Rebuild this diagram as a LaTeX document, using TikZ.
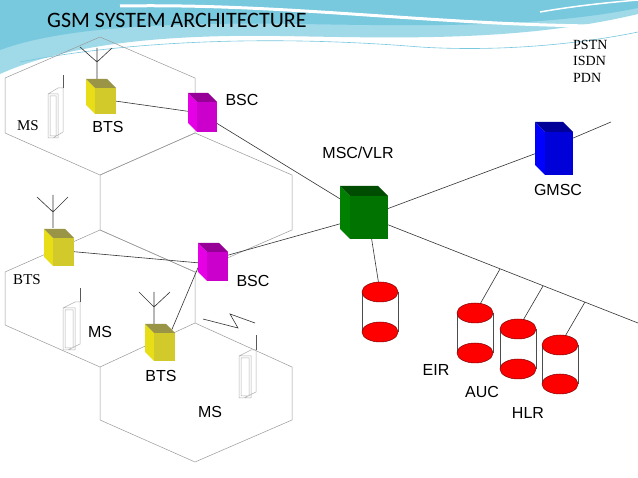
\documentclass[tikz,border=0pt]{standalone}
\usepackage{fontspec}
\setmainfont{Liberation Sans}
\newfontfamily\serf{Liberation Serif}
\newfontfamily\calib{Carlito}
\definecolor{mag}{RGB}{204,0,204}
\definecolor{magl}{RGB}{230,0,230}
\definecolor{magd}{RGB}{150,0,150}
\definecolor{wave1}{RGB}{160,218,232}
\definecolor{wave2}{RGB}{120,200,222}
\newcommand\mycube[8]{%
 \fill[#6] (#1,#2)--(#1-#8,#2-#8)--(#1-#8,#4-#8)--(#1,#4)--cycle;
 \fill[#7] (#1,#2)--(#1-#8,#2-#8)--(#3-#8,#2-#8)--(#3,#2)--cycle;
 \fill[#5] (#1,#2) rectangle (#3,#4);}
\newcommand\mycyl[5]{%
 \draw[gray!60!black,line width=0.6pt] (#1-#4,#2)--(#1-#4,#3) (#1+#4,#2)--(#1+#4,#3);
 \draw[fill=red,draw=red!50!black,line width=0.5pt] (#1,#3) ellipse [x radius=#4,y radius=#5];
 \draw[fill=red,draw=red!50!black,line width=0.5pt] (#1,#2) ellipse [x radius=#4,y radius=#5];}
\newcommand\myphone[5]{%
 \draw[gray!60,line width=0.5pt] (#1,#2+6)--(#3-5,#2)--(#3,#2)--(#3,#4-6)--(#1+5,#4) (#1,#2+6) rectangle (#3-5,#4) (#1+2,#2+8) rectangle (#3-7,#4-2);
 \draw[gray!70!black,line width=0.6pt] (#3,#2)--(#3,#5);}
\begin{document}
\begin{tikzpicture}[x=1pt,y=-1pt,
 hex/.style={draw=gray!80,line width=0.5pt},
 link/.style={draw=black!80,line width=0.6pt},
 lab/.style={font=\fontsize{16}{18}\selectfont,inner sep=0pt},
 slab/.style={font=\serf\fontsize{15}{17}\selectfont,inner sep=0pt}]
\useasboundingbox (0,0) rectangle (638,478);
\fill[white] (0,0) rectangle (638,478);
% header wave
\fill[wave1] (0,0)--(638,0)--(638,14) .. controls (520,42) and (400,38) .. (280,36) .. controls (150,34) and (60,47) .. (0,74)--cycle;
\fill[wave2] (0,0)--(638,0)--(638,8) .. controls (540,28) and (420,26) .. (300,24) .. controls (160,22) and (60,28) .. (0,50)--cycle;
\draw[white,line width=3pt] (120,6) .. controls (300,3) and (450,28) .. (638,26);
\draw[white,line width=1.5pt] (540,12) .. controls (580,5) and (615,2) .. (638,0);
\draw[wave2,line width=0.6pt] (20,62) .. controls (150,37) and (300,37) .. (420,47) .. controls (500,52) and (580,44) .. (638,32);
\node[font=\calib\fontsize{22}{26}\selectfont,anchor=west,inner sep=0pt] (title) at (47,20) {GSM SYSTEM ARCHITECTURE};
% hexagons
\draw[hex] (100,37)--(195,78)--(195,133)--(100,175)--(5,133)--(5,78)--cycle;
\draw[hex] (100,175)--(195,133)--(292,175)--(292,230)--(195,272)--(100,230)--cycle;
\draw[hex] (100,230)--(195,272)--(195,323)--(100,367)--(5,325)--(5,272)--cycle;
\draw[hex] (195,323)--(292,367)--(292,420)--(195,462)--(100,420)--(100,367);
% coordinates
\coordinate (bts1) at (108,100); \coordinate (bsc1) at (200,113);
\coordinate (bts2) at (66,251); \coordinate (bsc2) at (200,263);
\coordinate (bts3) at (170,334); \coordinate (msc) at (368,216);
\coordinate (gmsc) at (545,150); \coordinate (netend) at (611,122);
\coordinate (bus0) at (386,224); \coordinate (bus1) at (638,323);
\coordinate (c1) at (380,292); \coordinate (c2) at (475,313);
\coordinate (c3) at (518,329); \coordinate (c4) at (560,345);
\coordinate (t2) at (500,269); \coordinate (t3) at (543,286); \coordinate (t4) at (585,302);
% links
\draw[link] (bts1)--(bsc1);
\draw[link] (bsc1)--(msc);
\draw[link] (bts2)--(bsc2);
\draw[link] (bts3)--(bsc2);
\draw[link] (bsc2)--(msc);
\draw[link] (msc)--(gmsc);
\draw[link] (gmsc)--(netend);
\draw[link] (bus0)--(bus1);
\draw[link] (msc)--(c1);
\draw[link] (t2)--(c2); \draw[link] (t3)--(c3); \draw[link] (t4)--(c4);
% antennas
\draw[link] (97,80)--(97,62)--(80,47) (97,62)--(112,48) (97,62)--(97,48);
\draw[link] (53,228)--(53,212)--(37,197) (53,212)--(68,197) (53,212)--(53,195);
\draw[link] (154,325)--(154,307)--(139,292) (154,307)--(170,292) (154,307)--(154,292);
% cubes
\mycube{95}{88}{116}{114}{yellow!80!black}{yellow!90!black}{yellow!55!black}{9}
\mycube{197}{102}{217}{132}{mag}{magl}{magd}{9}
\mycube{53}{238}{74}{266}{yellow!80!black}{yellow!90!black}{yellow!55!black}{9}
\mycube{207}{252}{228}{281}{mag}{magl}{magd}{9}
\mycube{154}{333}{175}{361}{yellow!80!black}{yellow!90!black}{yellow!55!black}{9}
\mycube{350}{196}{388}{239}{green!45!black}{green!50!black}{green!30!black}{10}
\mycube{545}{132}{573}{175}{blue!85!black}{blue}{blue!60!black}{10}
% cylinders
\mycyl{380}{292}{332}{18}{10}
\mycyl{475}{313}{353}{18}{10}
\mycyl{518}{329}{369}{18}{10}
\mycyl{560}{345}{384}{18}{10}
% phones
\myphone{48}{88}{63}{138}{75}
\myphone{63}{302}{80}{350}{288}
\myphone{239}{350}{256}{398}{335}
% lightning
\draw[link] (203,319)--(238,328)--(230,314)--(255,323);
% labels
\node[slab] (lms1) at (28,126) {MS};
\node[lab] (lbts1) at (108,127) {BTS};
\node[lab] (lbsc1) at (242,100) {BSC};
\node[lab] (lmsc) at (358,153) {MSC/VLR};
\node[lab] (lgmsc) at (558,190) {GMSC};
\node[slab] (lbts2) at (27,280) {BTS};
\node[lab] (lbsc2) at (253,281) {BSC};
\node[lab] (lms2) at (100,332) {MS};
\node[lab] (lbts3) at (161,376) {BTS};
\node[lab] (lms3) at (210,412) {MS};
\node[lab] (leir) at (436,370) {EIR};
\node[lab] (lauc) at (482,392) {AUC};
\node[lab] (lhlr) at (528,413) {HLR};
\node[anchor=west,align=left,inner sep=0pt,font=\serf\fontsize{14}{16.5}\selectfont] (net) at (573,61) {PSTN\\ISDN\\PDN};
\end{tikzpicture}
\end{document}
